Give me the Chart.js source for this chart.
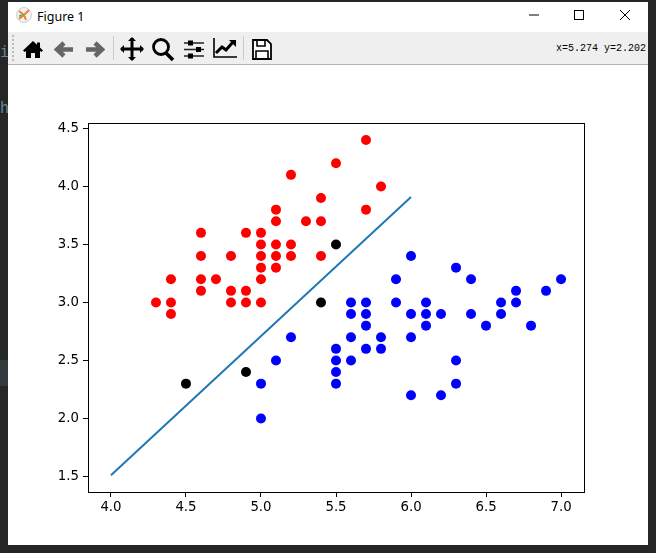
<!DOCTYPE html>
<html>
<head>
<meta charset="utf-8">
<title>Figure 1</title>
<script src="https://cdn.jsdelivr.net/npm/chart.js@4"></script>
<style>
  html, body { margin: 0; padding: 0; width: 656px; height: 553px; overflow: hidden; background: #252626; }
  .band { position: absolute; left: 0; top: 360px; width: 8px; height: 26px; background: #343a3c; }
  .edge { position: absolute; left: 0; font: 15px "DejaVu Sans Mono", monospace; color: #648597; }
  .win { position: absolute; left: 8px; top: 2px; width: 640px; height: 543px; background: #fff; }
  .title { position: absolute; left: 29px; top: 6px; font: 12.5px "Noto Sans", sans-serif; color: #000; }
  .toolbar { position: absolute; left: 0; top: 30px; width: 640px; height: 32px; background: #efefef; border-bottom: 1px solid #b4b4b4; }
  .readout { position: absolute; right: 2px; top: 41px; font: 10px "Liberation Mono", monospace; color: #000; white-space: pre; }
  svg { position: absolute; }
  canvas { position: absolute; left: 0; top: 63px; }
</style>
</head>
<body>
<div class="band"></div>
<div class="edge" style="top:43px">i</div>
<div class="edge" style="top:99px">h</div>
<div class="win">
  <div class="title">Figure 1</div>
  <div class="toolbar"></div>
  <div class="readout">x=5.274 y=2.202</div>
  <canvas id="chart" width="640" height="480"></canvas>
</div>
<!-- window chrome and toolbar icons -->
<svg width="656" height="70" style="left:0;top:0">
  <circle cx="24" cy="15" r="7.5" fill="#f4f4f4" stroke="#cfcfcf"/>
  <path d="M19 11l5 4 5-5M24 15l-5 4M24 15l2 5" stroke="#f08030" stroke-width="2" fill="none"/>
  <path d="M24 15l-5 1" stroke="#70b060" stroke-width="2"/>
  <g fill="#777">
    <circle cx="13" cy="36" r="0.8"/><circle cx="13" cy="40" r="0.8"/><circle cx="13" cy="44" r="0.8"/><circle cx="13" cy="48" r="0.8"/>
    <circle cx="13" cy="52" r="0.8"/><circle cx="13" cy="56" r="0.8"/><circle cx="13" cy="60" r="0.8"/>
  </g>
  <path d="M33 41L23 50.5l1.6 1.6 1.4-1.2V58h5v-5h4v5h5v-7.1l1.4 1.2 1.6-1.6-3-3v-5h-3v2.2z" fill="#000"/>
  <path d="M64 43l-7 6.500 7 6.500M58 49.500h15" stroke="#666" stroke-width="4.500" fill="none"/>
  <path d="M95 43l7 6.500-7 6.500M101 49.500H86" stroke="#666" stroke-width="4.500" fill="none"/>
  <path d="M113.500 36v24M243.500 36v24" stroke="#ccc"/>
  <path d="M132 38v22M121 49h22" stroke="#000" stroke-width="3"/>
  <path d="M132 37l-4 4h8zM132 61l-4-4h8zM120 49l4-4v8zM144 49l-4-4v8z" fill="#000"/>
  <circle cx="161" cy="47" r="7.500" fill="none" stroke="#000" stroke-width="2.800"/>
  <path d="M166 53l7 7" stroke="#000" stroke-width="3.500"/>
  <path d="M184 43h20M184 49.500h20M184 56h20" stroke="#222" stroke-width="1.500"/>
  <path d="M188 40.500h5v5h-5zM196 47h5v5h-5zM188 53.500h5v5h-5z" fill="#000"/>
  <path d="M214 38v19h23" stroke="#000" stroke-width="1.600" fill="none"/>
  <path d="M216 53l6-6 4 3 7-8" stroke="#000" stroke-width="3" fill="none"/>
  <path d="M229 40h7v7z" fill="#000"/>
  <path d="M253 40h14l4 4v15h-18z" fill="#fff" stroke="#000" stroke-width="1.800"/>
  <path d="M257 40v6h8v-6M256 59v-8h12v8" fill="none" stroke="#000" stroke-width="1.600"/>
  <path d="M529 15h10" stroke="#000"/>
  <rect x="574.500" y="10.500" width="9" height="9" fill="none" stroke="#000"/>
  <path d="M620 10l10 10M630 10l-10 10" stroke="#000"/>
</svg>
<script>
// setosa, versicolor and the misclassified points
const redX = [4.3, 4.4, 4.4, 4.4, 4.6, 4.6, 4.6, 4.6, 4.7, 4.8, 4.8, 4.8, 4.9, 4.9, 4.9,
  5.0, 5.0, 5.0, 5.0, 5.0, 5.0, 5.1, 5.1, 5.1, 5.1, 5.1, 5.2, 5.2, 5.2, 5.3,
  5.4, 5.4, 5.4, 5.5, 5.7, 5.7, 5.8];
const redY = [3.0, 3.2, 3.0, 2.9, 3.6, 3.4, 3.2, 3.1, 3.2, 3.4, 3.1, 3.0, 3.6, 3.1, 3.0,
  3.6, 3.5, 3.4, 3.3, 3.2, 3.0, 3.8, 3.7, 3.5, 3.4, 3.3, 4.1, 3.5, 3.4, 3.7,
  3.9, 3.7, 3.4, 4.2, 4.4, 3.8, 4.0];

const blueX = [5.0, 5.0, 5.1, 5.2, 5.5, 5.5, 5.5, 5.5, 5.6, 5.6, 5.6, 5.6, 5.7, 5.7, 5.7, 5.7,
  5.8, 5.8, 5.9, 5.9, 6.0, 6.0, 6.0, 6.0, 6.1, 6.1, 6.1, 6.2, 6.2, 6.3, 6.3, 6.3,
  6.4, 6.4, 6.5, 6.6, 6.6, 6.7, 6.7, 6.8, 6.9, 7.0];
const blueY = [2.3, 2.0, 2.5, 2.7, 2.6, 2.5, 2.4, 2.3, 3.0, 2.9, 2.7, 2.5, 3.0, 2.9, 2.8, 2.6,
  2.7, 2.6, 3.2, 3.0, 3.4, 2.9, 2.7, 2.2, 3.0, 2.9, 2.8, 2.9, 2.2, 3.3, 2.5, 2.3,
  3.2, 2.9, 2.8, 3.0, 2.9, 3.1, 3.0, 2.8, 3.1, 3.2];

const blackX = [4.5, 4.9, 5.4, 5.5];
const blackY = [2.3, 2.4, 3.0, 3.5];

const lineX = [4.0, 6.0];
const lineY = [1.51, 3.91];

const xTicks = [4.0, 4.5, 5.0, 5.5, 6.0, 6.5, 7.0];
const yTicks = [1.5, 2.0, 2.5, 3.0, 3.5, 4.0, 4.5];

function toPoints(xs, ys) {
    return xs.map((x, i) => ({ x: x, y: ys[i] }));
}

// matplotlib draws all four spines
const frame = {
    id: 'frame',
    afterDraw(chart) {
        const a = chart.chartArea;
        const c = chart.ctx;
        c.save();
        c.strokeStyle = '#000';
        c.lineWidth = 1;
        c.strokeRect(a.left + 0.5, a.top + 0.5, a.right - a.left, a.bottom - a.top);
        c.restore();
    }
};

const tickFont = { family: 'DejaVu Sans', size: 13.3 };

new Chart(document.getElementById('chart'), {
    type: 'scatter',
    data: {
        datasets: [
            { data: toPoints(redX, redY), backgroundColor: '#ff0000', borderWidth: 0, pointRadius: 5 },
            { data: toPoints(blueX, blueY), backgroundColor: '#0000ff', borderWidth: 0, pointRadius: 5 },
            { data: toPoints(blackX, blackY), backgroundColor: '#000000', borderWidth: 0, pointRadius: 5 },
            { data: toPoints(lineX, lineY), showLine: true, borderColor: '#1f77b4', borderWidth: 2, pointRadius: 0 }
        ]
    },
    options: {
        responsive: false,
        animation: false,
        layout: { padding: { top: 58, right: 64, bottom: 0, left: 0 } },
        plugins: { legend: { display: false }, tooltip: { enabled: false } },
        scales: {
            x: {
                type: 'linear',
                min: 3.847,
                max: 7.153,
                afterBuildTicks: axis => { axis.ticks = xTicks.map(v => ({ value: v })); },
                afterFit: axis => { axis.height = 53; },
                grid: { drawOnChartArea: false, tickLength: 5, tickColor: '#000' },
                border: { display: false },
                ticks: { color: '#000', font: tickFont, maxRotation: 0, autoSkip: false, padding: 3,
                    callback: v => v.toFixed(1) }
            },
            y: {
                type: 'linear',
                min: 1.366,
                max: 4.547,
                afterBuildTicks: axis => { axis.ticks = yTicks.map(v => ({ value: v })); },
                afterFit: axis => { axis.width = 80; },
                grid: { drawOnChartArea: false, tickLength: 5, tickColor: '#000' },
                border: { display: false },
                ticks: { color: '#000', font: tickFont, autoSkip: false, padding: 4,
                    callback: v => v.toFixed(1) }
            }
        }
    },
    plugins: [frame]
});
</script>
</body>
</html>
